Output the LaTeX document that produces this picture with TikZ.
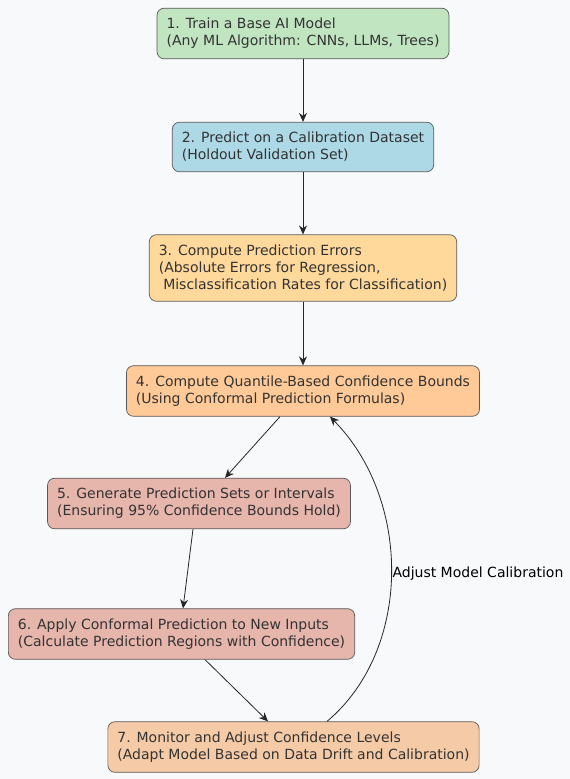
\documentclass[tikz,border=0pt]{standalone}
\usepackage{fontspec}
\setmainfont{DejaVu Sans}
\usetikzlibrary{arrows.meta}
\definecolor{bgc}{HTML}{F8F9FA}
\definecolor{txt}{HTML}{333333}
\definecolor{cgreen}{HTML}{C1E5C1}
\definecolor{cblue}{HTML}{ADD8E6}
\definecolor{corangea}{HTML}{FFD89B}
\definecolor{corangeb}{HTML}{FFCA98}
\definecolor{crose}{HTML}{E6B5AC}
\definecolor{cpeach}{HTML}{F5CBA7}
\tikzset{
  stepbox/.style={draw=black!65, line width=0.7pt, rounded corners=7pt, align=left, text=txt,
    inner xsep=9.5pt, inner ysep=10pt, font=\fontsize{14}{17}\selectfont},
  flow/.style={-{Stealth[length=9pt, width=8pt, inset=3pt]}, black!85, line width=0.8pt}
}
\begin{document}
\begin{tikzpicture}[x=1pt, y=-1pt]
    \fill[bgc] (0,0) rectangle (570,779);
    \node[stepbox, fill=cgreen] (train) at (303,33.5) {1. Train a Base AI Model\\(Any ML Algorithm: CNNs, LLMs, Trees)};
    \node[stepbox, fill=cblue] (predict) at (303,147) {2. Predict on a Calibration Dataset\\(Holdout Validation Set)};
    \node[stepbox, fill=corangea] (errors) at (303,268) {3. Compute Prediction Errors\\(Absolute Errors for Regression,\\ \ Misclassification Rates for Classification)};
    \node[stepbox, fill=corangeb] (bounds) at (303,391) {4. Compute Quantile-Based Confidence Bounds\\(Using Conformal Prediction Formulas)};
    \node[stepbox, fill=crose] (sets) at (199,503.5) {5. Generate Prediction Sets or Intervals\\(Ensuring 95\% Confidence Bounds Hold)};
    \node[stepbox, fill=crose] (apply) at (181.5,634) {6. Apply Conformal Prediction to New Inputs\\(Calculate Prediction Regions with Confidence)};
    \node[stepbox, fill=cpeach] (monitor) at (293.5,747) {7. Monitor and Adjust Confidence Levels\\(Adapt Model Based on Data Drift and Calibration)};
    \draw[flow] (train) -- (predict);
    \draw[flow] (predict) -- (errors);
    \draw[flow] (errors) -- (bounds);
    \draw[flow] (bounds.south -| 280,0) -- (sets.north -| 225,0);
    \draw[flow] (sets.south -| 193,0) -- (apply.north -| 183,0);
    \draw[flow] (apply.south -| 205,0) -- (monitor.north -| 268,0);
    \draw[flow] (monitor.north -| 327,0) .. controls (412,650) and (412,500) .. (bounds.south -| 330,0)
        node[pos=0.5, right, text=black, font=\fontsize{14}{17}\selectfont, inner sep=1pt] {Adjust Model Calibration};
\end{tikzpicture}
\end{document}
